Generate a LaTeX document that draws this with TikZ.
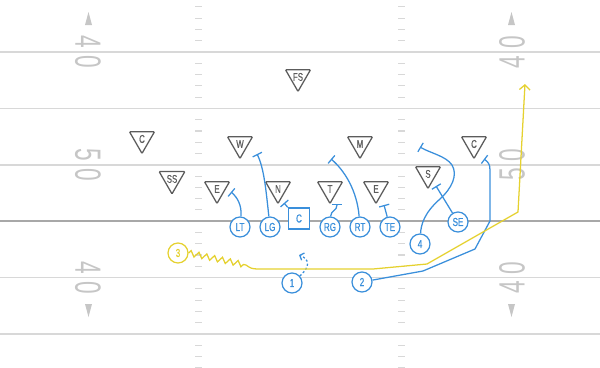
\documentclass[tikz,border=0pt]{standalone}
\usepackage{fontspec}
\usepackage{xcolor}
\usetikzlibrary{shapes.geometric,arrows.meta,decorations.pathmorphing}
\setmainfont{Liberation Sans}
\newfontfamily\labelfont[FakeStretch=0.7,FakeBold=0.6]{Liberation Sans}
\newfontfamily\yardfont[FakeStretch=0.62]{Liberation Sans}
\definecolor{offblue}{HTML}{3A8FDB}
\definecolor{qbgold}{HTML}{E5D12F}
\definecolor{defgrey}{HTML}{5C5C5C}
\definecolor{fieldgrey}{HTML}{D8D8D8}
\definecolor{losgrey}{HTML}{A8A8A8}
\definecolor{numgrey}{HTML}{C6C6C6}

\begin{document}
\begin{tikzpicture}[x=0.025cm, y=-0.025cm,
    off/.style={circle, draw=offblue, fill=white, line width=0.9pt, minimum size=0.5cm, inner sep=0pt, text=offblue, font=\labelfont\fontsize{8.2}{9}\selectfont},
    snap/.style={off, rectangle, minimum size=0.53cm},
    qb/.style={off, draw=qbgold, text=qbgold},
    def/.style={regular polygon, regular polygon sides=3, shape border rotate=180, draw=defgrey, fill=white, line width=0.9pt, rounded corners=0.6pt, minimum size=0.72cm, inner sep=0pt, text=defgrey, font=\labelfont\fontsize{8}{9}\selectfont},
    blk/.style={draw=offblue, line width=0.9pt, -{Bar[width=0.26cm]}},
    motion/.style={draw=offblue, line width=0.9pt, dash pattern=on 1.5pt off 1.5pt, -{Straight Barb[length=2.5pt, width=5.5pt]}},
    qbroute/.style={draw=qbgold, line width=0.9pt, decoration={zigzag, segment length=0.2cm, amplitude=0.07cm}, -{Straight Barb[length=3.5pt, width=7.5pt]}},
    yardnum/.style={text=numgrey, inner sep=0pt, font=\yardfont\fontsize{26}{26}\selectfont},
    yardline/.style={draw=fieldgrey, line width=1pt},
    hashmark/.style={draw=fieldgrey, line width=0.8pt}]
  \useasboundingbox (0,0) rectangle (600,368);

  \foreach \y in {52,108.4,164.8,277.6,334}
    \draw[yardline] (0,\y) -- (600,\y);
  \draw[yardline, draw=losgrey] (0,221.2) -- (600,221.2);
  \foreach \k in {-1,...,5}
    \foreach \j in {1,...,4} {
      \pgfmathsetmacro\hy{52+56.4*\k+11.28*\j}
      \draw[hashmark] (195,\hy) -- (202,\hy);
      \draw[hashmark] (398,\hy) -- (405,\hy);
    }

  \node[yardnum, rotate=-90] (ltop) at (88,52) {4\kern5pt0};
  \node[yardnum, rotate=-90] (lmid) at (88,164.8) {5\kern5pt0};
  \node[yardnum, rotate=-90] (lbot) at (88,277.6) {4\kern5pt0};
  \node[yardnum, rotate=90] (rtop) at (512,52) {4\kern5pt0};
  \node[yardnum, rotate=90] (rmid) at (512,164.8) {5\kern5pt0};
  \node[yardnum, rotate=90] (rbot) at (512,277.6) {4\kern5pt0};
  \fill[numgrey] (88.5,12) -- (92,25) -- (85,25) -- cycle;
  \fill[numgrey] (511.5,12) -- (515,25) -- (508,25) -- cycle;
  \fill[numgrey] (88.5,317) -- (92,304) -- (85,304) -- cycle;
  \fill[numgrey] (511.5,317) -- (515,304) -- (508,304) -- cycle;

  \node[def] (FS) at (298,77) {FS};
  \node[def] (CBL) at (142,139) {C};
  \node[def] (W) at (240,144) {W};
  \node[def] (SS) at (172,179) {SS};
  \node[def] (M) at (360,144) {M};
  \node[def] (CBR) at (474,144) {C};
  \node[def] (S) at (428,174) {S};
  \node[def] (EL) at (217,189) {E};
  \node[def] (N) at (278,189) {N};
  \node[def] (T) at (330,189) {T};
  \node[def] (ER) at (376,189) {E};

  \node[off] (LT) at (240,227) {LT};
  \node[off] (LG) at (270,227) {LG};
  \node[snap] (C) at (299,218.5) {C};
  \node[off] (RG) at (330,227) {RG};
  \node[off] (RT) at (360,227) {RT};
  \node[off] (TE) at (390,227) {TE};
  \node[off] (SE) at (458,222) {SE};
  \node[off] (4) at (420,244) {4};
  \node[off] (2) at (362,282) {2};
  \node[off] (1) at (292,283) {1};
  \node[qb] (3) at (178,253) {3};

  \draw[blk] (LT) .. controls (242,205) and (237,197) .. (231,192);
  \draw[blk] (LG) .. controls (266,190) and (264,168) .. (257,154);
  \draw[blk] (C.north west) -- (284,203);
  \draw[blk] (RG) .. controls (331,210) and (337,211) .. (337,204);
  \draw[blk] (RT) .. controls (357,190) and (344,170) .. (331,159);
  \draw[blk] (TE) -- (384,205);
  \draw[blk] (SE) -- (436,186);
  \draw[blk] (4) .. controls (421,225) and (424,213) .. (440,199) .. controls (452,188) and (458,175) .. (452,165) .. controls (446,156) and (430,153) .. (420,147);
  \draw[blk] (2) -- (423,271) -- (475,249) -- (490,221) -- (490,170) .. controls (490,164) and (488,162) .. (484,159);
  \draw[motion] (1) .. controls (311,266) and (309,259) .. (299,255);
  \draw[qbroute] (3.east) decorate {-- (246,265)} .. controls (250,268) and (252,269) .. (258,269) -- (373,269) -- (427,264) -- (518,212) -- (525,84);
\end{tikzpicture}
\end{document}
